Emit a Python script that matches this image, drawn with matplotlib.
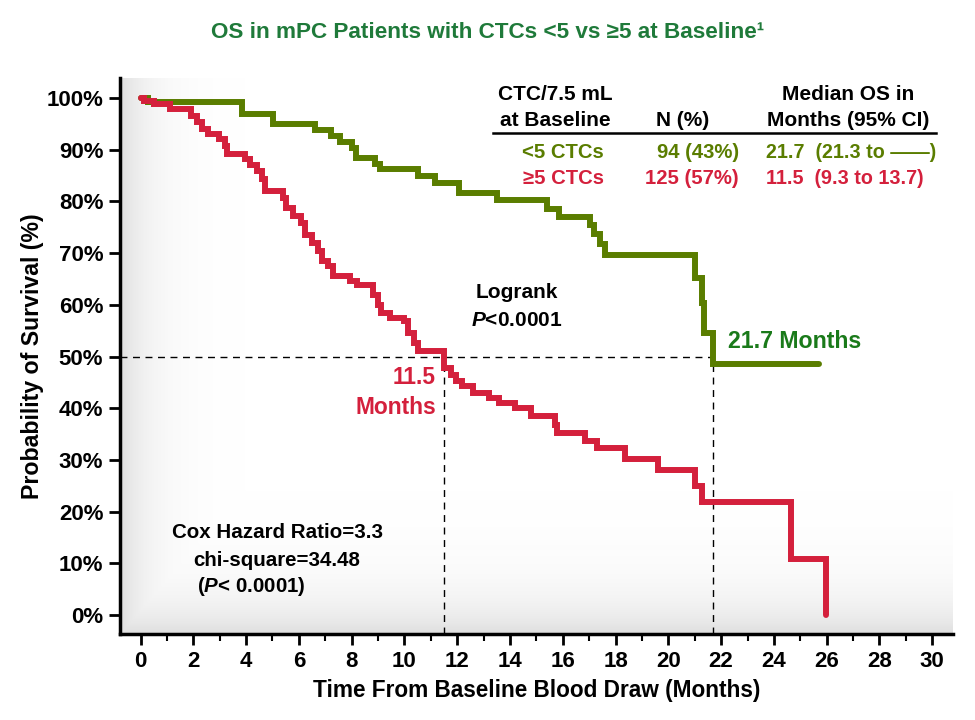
import numpy as np
from matplotlib import pyplot as plt

plt.rcParams['font.family'] = ['Liberation Sans', 'DejaVu Sans']
plt.rcParams['font.weight'] = 'bold'
plt.rcParams['mathtext.fontset'] = 'custom'
plt.rcParams['mathtext.it'] = 'Liberation Sans:italic:bold'
plt.rcParams['mathtext.rm'] = 'Liberation Sans:bold'

# Kaplan-Meier steps (months, % surviving)
low_time = [0, 0.3, 3.84, 5.03, 6.6, 7.23, 7.55, 8.0, 8.18, 8.87, 9.06, 10.5,
            11.15, 12.08, 13.5, 15.4, 15.85, 17.04, 17.17, 17.42, 17.6,
            21.0, 21.26, 21.36, 21.7, 25.72]
low_surv = [100, 99.2, 97.0, 94.9, 93.9, 92.7, 91.5, 90.3, 88.4, 87.2, 86.2, 85.0,
            83.5, 81.7, 80.3, 78.5, 77.0, 75.4, 73.8, 71.7, 69.6,
            65.1, 60.3, 54.6, 48.6, 48.6]

high_time = [0, 0.13, 0.5, 1.13, 1.9, 2.14, 2.33, 2.57, 2.96, 3.2, 3.27, 3.96,
             4.15, 4.4, 4.6, 4.72, 5.41, 5.53, 5.78, 6.1, 6.23, 6.48, 6.73, 6.86,
             7.1, 7.3, 7.95, 8.2, 8.8, 9.0, 9.13, 9.45, 10.0, 10.15, 10.35, 10.5,
             11.5, 11.76, 11.95, 12.2, 12.58, 13.2, 13.58, 14.2, 14.78, 15.72,
             15.79, 16.86, 17.3, 18.37, 19.6, 21.0, 21.26, 24.65, 25.97, 25.97]
high_surv = [100, 99.5, 98.8, 97.9, 96.6, 95.3, 94.0, 93.0, 92.0, 90.8, 89.1, 88.2,
             87.0, 85.9, 84.3, 82.0, 80.7, 78.8, 77.2, 75.9, 73.6, 72.0, 70.4, 68.5,
             67.5, 65.6, 64.7, 63.8, 62.0, 60.0, 58.5, 57.5, 56.8, 54.6, 52.6, 51.0,
             47.8, 46.5, 45.2, 44.3, 43.0, 42.0, 41.0, 40.1, 38.4, 36.8,
             35.2, 33.6, 32.3, 30.2, 28.1, 24.9, 21.8, 10.9, 10.9, 0]

median_low = 21.7
median_high = 11.5

x_ticks = list(range(0, 31, 2))
y_ticks = list(range(0, 101, 10))

green = '#5a7d00'
red = '#d4203c'

fig = plt.figure(figsize=(9.75, 7.2), dpi=100)
ax = fig.add_axes([0.123, 0.1194, 0.854, 0.7723])
ax.set_xlim(-0.78, 30.77)
ax.set_ylim(-3.7, 103.9)

# soft grey shading along left and bottom edges
gx = np.linspace(0, 1, 400)
gy = np.linspace(0, 1, 300)
X, Y = np.meshgrid(gx, gy)
shade = np.maximum(np.exp(-X / 0.035), np.exp(-Y / 0.06))
img = np.zeros((300, 400, 4))
img[..., :3] = 0.55
img[..., 3] = shade * 0.28
ax.imshow(img, extent=[0, 1, 0, 1], transform=ax.transAxes, origin='lower',
          aspect='auto', zorder=0, interpolation='bilinear')

# median guide lines
ax.plot([-0.78, median_low], [50, 50], color='black', lw=1, ls=(0, (5, 4)), zorder=1)
ax.plot([median_high, median_high], [-3.7, 50], color='black', lw=1, ls=(0, (5, 4)), zorder=1)
ax.plot([median_low, median_low], [-3.7, 48.6], color='black', lw=1, ls=(0, (5, 4)), zorder=1)

ax.plot(low_time, low_surv, drawstyle='steps-post', color=green, lw=4.3,
        solid_capstyle='round', solid_joinstyle='miter', zorder=3)
ax.plot(high_time, high_surv, drawstyle='steps-post', color=red, lw=4.3,
        solid_capstyle='round', solid_joinstyle='miter', zorder=4)

ax.spines['top'].set_visible(False)
ax.spines['right'].set_visible(False)
ax.spines['left'].set_linewidth(2.5)
ax.spines['bottom'].set_linewidth(2.5)

ax.set_xticks(x_ticks)
ax.set_xticks(range(0, 31), minor=True)
ax.set_yticks(y_ticks)
ax.set_yticklabels([f'{v}%' for v in y_ticks])
ax.tick_params(axis='both', which='major', length=8, width=2, labelsize=16, pad=4)
ax.tick_params(axis='x', which='minor', length=5, width=1.5)

ax.set_xlabel('Time From Baseline Blood Draw (Months)', fontsize=16.3, fontweight='bold', labelpad=5)
ax.set_ylabel('Probability of Survival (%)', fontsize=16.7, fontweight='bold', labelpad=2)

fig.text(0.5, 0.955, 'OS in mPC Patients with CTCs <5 vs ≥5 at Baseline¹', ha='center',
         va='center', fontsize=16.2, fontweight='bold', color='#1f7a3a')

# table in upper right
def ftext(x, y, s, **kw):
    kw.setdefault('fontsize', 15)
    kw.setdefault('fontweight', 'bold')
    fig.text(x / 975, 1 - y / 720, s, va='center', **kw)

ftext(555, 94, 'CTC/7.5 mL', ha='center')
ftext(555, 120, 'at Baseline', ha='center')
ftext(683, 120, 'N (%)', ha='center')
ftext(848, 94, 'Median OS in', ha='center')
ftext(848, 120, 'Months (95% CI)', ha='center')
fig.add_artist(plt.Line2D([493 / 975, 936 / 975], [1 - 133 / 720, 1 - 133 / 720],
                          color='black', lw=1.8))
ftext(604, 152, '<5 CTCs', ha='right', color=green, fontsize=14.6)
ftext(739, 152, '94 (43%)', ha='right', color=green, fontsize=14.6)
ftext(766, 152, '21.7  (21.3 to ——)', ha='left', color=green, fontsize=14.2)
ftext(604, 179, '≥5 CTCs', ha='right', color=red, fontsize=14.6)
ftext(739, 179, '125 (57%)', ha='right', color=red, fontsize=14.6)
ftext(766, 179, '11.5  (9.3 to 13.7)', ha='left', color=red, fontsize=14.2)

ftext(517, 293, 'Logrank', ha='center')
ftext(517, 320, r'$P$<0.0001', ha='center')

ftext(436, 378, '11.5', ha='right', fontsize=16.4, color=red)
ftext(436, 408, 'Months', ha='right', fontsize=16.4, color=red)
ftext(728, 342, '21.7 Months', ha='left', fontsize=16.7, color='#1a7a1a')

ftext(172, 533, 'Cox Hazard Ratio=3.3', ha='left', fontsize=14.8)
ftext(193, 560, 'chi-square=34.48', ha='left', fontsize=14.8)
ftext(197, 587, r'($P$< 0.0001)', ha='left', fontsize=14.8)

fig.savefig('out.png', dpi=100)
